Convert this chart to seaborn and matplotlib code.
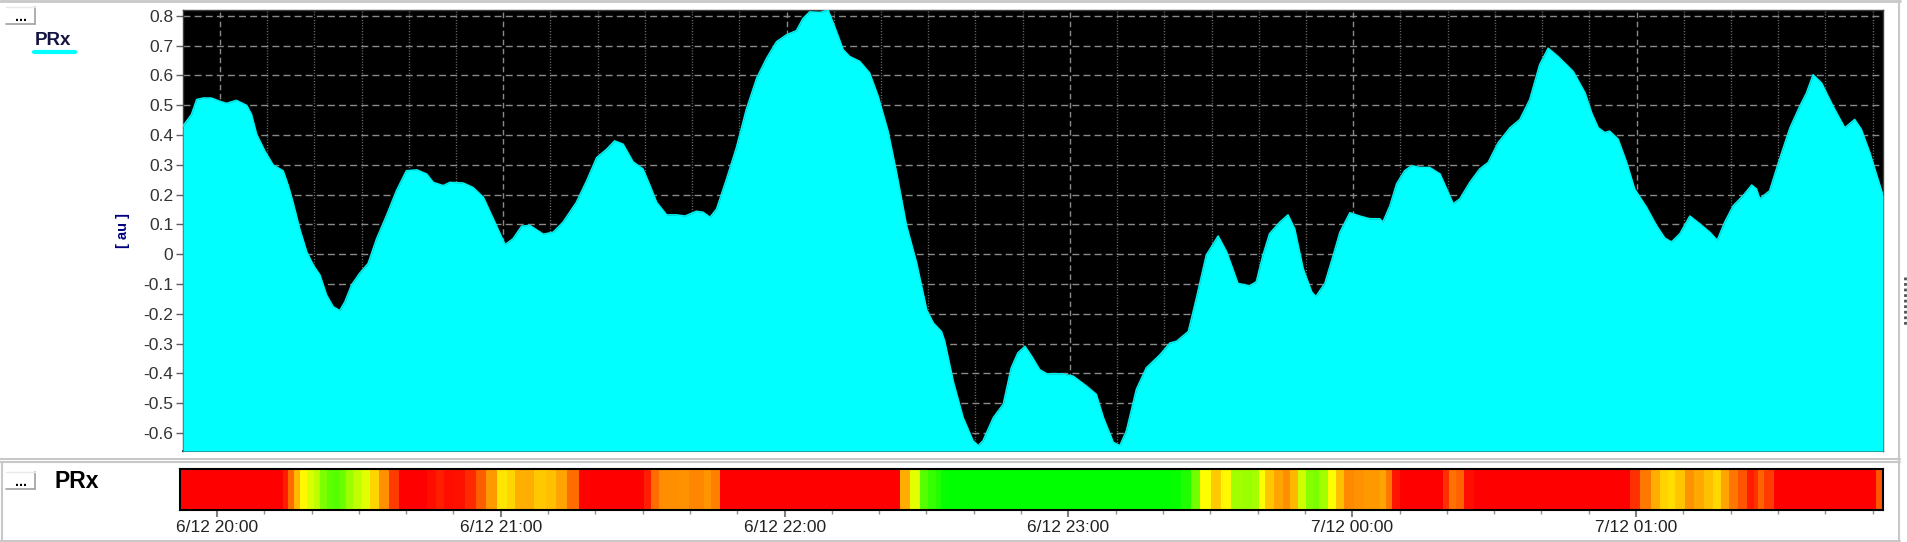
import numpy as np
import pandas as pd
import matplotlib
matplotlib.use("Agg")
import matplotlib.pyplot as plt
import seaborn as sns
from matplotlib.colors import LinearSegmentedColormap
from matplotlib.patches import Rectangle
from matplotlib.lines import Line2D

# ---- data: minutes after 6/12 20:00, PRx value ----
minutes = [-7.8, -6.0, -4.9, -3.5, -1.8, 0.0, 1.4, 3.5, 5.7, 6.7, 7.8, 9.5, 11.3, 13.4, 14.5,
           15.5, 16.9, 18.4, 19.8, 21.2, 22.6, 24.0, 25.4, 26.5, 27.9, 29.6, 31.4, 33.2, 35.3,
           37.4, 39.5, 41.7, 43.8, 45.2, 47.3, 48.7, 51.5, 53.6, 55.8, 57.9, 60.4, 62.1, 63.9,
           65.6, 68.5, 70.6, 72.7, 75.5, 77.7, 79.8, 81.9, 83.6, 85.4, 87.5, 89.6,
           91.1, 92.5, 94.6, 96.7, 98.5, 100.9, 102.3, 103.8, 105.2, 107.3, 109.4, 111.5,
           113.7, 115.8, 117.9, 120.0, 122.1, 123.5, 124.9, 127.1, 128.8, 130.2, 132.0,
           133.4, 135.5, 137.6, 139.4, 141.5, 143.3, 145.4, 147.5, 149.7, 151.1, 152.8,
           153.5, 155.3, 157.4, 159.5, 160.6, 161.6, 163.8, 165.9, 167.6, 169.0, 170.5,
           171.9, 173.6, 175.1, 178.2, 180.7, 183.5, 185.6, 187.1, 189.2, 190.6, 192.0,
           194.1, 196.2, 199.1, 201.2, 202.6, 205.1, 206.8, 208.9, 211.4, 213.2, 215.6,
           218.1, 219.5, 220.9, 222.3, 224.5, 226.2, 227.6, 229.4, 231.2, 232.1, 234.0,
           235.8, 237.2, 239.3, 241.4, 243.5, 245.6, 246.3, 247.8, 249.2, 250.9, 252.4,
           254.1, 256.2, 258.4, 259.8, 261.2, 262.6, 264.7, 266.8, 268.6, 270.7, 273.2,
           275.3, 277.4, 279.5, 281.3, 283.4, 286.6, 289.1, 290.5, 291.9, 293.3, 294.3,
           296.1, 297.9, 299.6, 302.1, 304.2, 306.0, 307.4, 309.2, 311.3, 313.4, 315.5,
           317.1, 318.7, 320.5, 322.6, 324.4, 325.4, 326.1, 328.2, 330.3, 332.5, 334.6,
           336.0, 337.4, 339.2, 341.6, 344.1, 346.2, 347.6, 349.4, 352.2]
prx = [0.43, 0.469, 0.519, 0.524, 0.524, 0.513, 0.506, 0.516, 0.499, 0.469, 0.402, 0.347,
       0.299, 0.28, 0.23, 0.174, 0.086, 0.008, -0.037, -0.07, -0.137, -0.176, -0.189, -0.159,
       -0.103, -0.064, -0.031, 0.052, 0.13, 0.213, 0.28, 0.283, 0.269, 0.241, 0.23, 0.241,
       0.239, 0.224, 0.191, 0.119, 0.032, 0.052, 0.094, 0.097, 0.067, 0.074, 0.108, 0.174,
       0.247, 0.324, 0.352, 0.38, 0.369, 0.31, 0.286,
       0.23, 0.174, 0.132, 0.132, 0.128, 0.144, 0.141, 0.124, 0.152, 0.252, 0.358, 0.486,
       0.591, 0.658, 0.713, 0.736, 0.75, 0.791, 0.813, 0.811, 0.819, 0.763, 0.686,
       0.663, 0.647, 0.608, 0.53, 0.413, 0.274, 0.097, -0.026, -0.187, -0.231, -0.259,
       -0.292, -0.426, -0.548, -0.626, -0.642, -0.626, -0.548, -0.503, -0.381, -0.331, -0.309,
       -0.342, -0.387, -0.401, -0.401, -0.409, -0.442, -0.47, -0.548, -0.631, -0.642, -0.592,
       -0.453, -0.381, -0.337, -0.298, -0.292, -0.259, -0.148, -0.003, 0.061, 0.008, -0.098,
       -0.106, -0.092, -0.003, 0.069, 0.108, 0.132, 0.086, -0.048, -0.126, -0.142, -0.098,
       -0.003, 0.074, 0.139, 0.128, 0.119, 0.119, 0.108, 0.163, 0.236, 0.28, 0.297,
       0.291, 0.291, 0.269, 0.219, 0.169, 0.186, 0.241, 0.286, 0.308, 0.374, 0.424,
       0.452, 0.519, 0.636, 0.691, 0.663, 0.613, 0.541, 0.474, 0.424, 0.408, 0.413,
       0.386, 0.308, 0.219, 0.158, 0.097, 0.054, 0.041, 0.069, 0.128, 0.102, 0.074,
       0.047, 0.108, 0.163, 0.197, 0.232, 0.219, 0.186, 0.213, 0.319, 0.424, 0.497,
       0.541, 0.602, 0.574, 0.497, 0.424, 0.452, 0.419, 0.341, 0.197]

hour_ticks = [0, 60, 120, 180, 240, 300]
hour_labels = ["6/12 20:00", "6/12 21:00", "6/12 22:00", "6/12 23:00", "7/12 00:00", "7/12 01:00"]
y_ticks = [0.8, 0.7, 0.6, 0.5, 0.4, 0.3, 0.2, 0.1, 0.0, -0.1, -0.2, -0.3, -0.4, -0.5, -0.6]
y_tick_labels = ["0.8", "0.7", "0.6", "0.5", "0.4", "0.3", "0.2", "0.1", "0",
                 "-0.1", "-0.2", "-0.3", "-0.4", "-0.5", "-0.6"]
series_name = "PRx"
unit_label = "[ au ]"

# ---- styling ----
sns.set_theme(style="white")
plt.rcParams['font.family'] = ['Liberation Sans', 'DejaVu Sans']

W, H = 1907, 542
fig = plt.figure(figsize=(W / 100, H / 100), dpi=100)
fig.patch.set_facecolor('white')


def px_axes(x0, y0, x1, y1):
    return fig.add_axes([x0 / W, 1 - y1 / H, (x1 - x0) / W, (y1 - y0) / H])


XMIN, XMAX = -7.8, 352.2
YMIN, YMAX = -0.66, 0.821
df = pd.DataFrame({"minute": minutes, "PRx": prx})

# ---- main area chart ----
ax = px_axes(183, 9.5, 1883, 451)
ax.set_facecolor('black')
ax.fill_between(df["minute"], YMIN, df["PRx"], color='#00ffff', lw=0, zorder=3)
sns.lineplot(data=df, x="minute", y="PRx", ax=ax, color='#00f0f0', lw=1.2, zorder=4)
ax.set_xlim(XMIN, XMAX)
ax.set_ylim(YMIN, YMAX)
ax.set_xticks(hour_ticks)
ax.set_xticks(np.arange(0, 351, 10), minor=True)
ax.set_yticks(y_ticks, y_tick_labels)
ax.tick_params(axis='x', which='both', length=0, labelbottom=False)
ax.tick_params(axis='y', which='major', left=True, length=5, width=1, color='#606060',
               labelsize=12.5, labelcolor='#333333', pad=2)
ax.grid(False)
ax.xaxis.grid(True, which='major', color='#8a8a8a', lw=1, linestyle=(0, (4, 2.5)), zorder=1)
ax.xaxis.grid(True, which='minor', color='#7a7a7a', lw=1, linestyle=(0, (0.7, 1.3)), zorder=1)
ax.yaxis.grid(True, which='major', color='#8a8a8a', lw=1, linestyle=(0, (5, 3)), zorder=1)
ax.set_axisbelow(True)
ax.set_xlabel("")
ax.set_ylabel("")
for s in ['left', 'top', 'right']:
    ax.spines[s].set_color('#404040')
    ax.spines[s].set_linewidth(1)
ax.spines['bottom'].set_color('#2f4f4f')
ax.spines['bottom'].set_linewidth(1.5)

fig.text(123 / W, 1 - 230 / H, unit_label, rotation=90, ha='center', va='center',
         color='#00007f', fontweight='bold', fontsize=10.5)

# ---- colour bar strip ----
VMIN, VMAX = -0.3, 0.25
def nv(v):
    return (v - VMIN) / (VMAX - VMIN)

cmap = LinearSegmentedColormap.from_list(
    "prx", [(nv(-0.3), (0, 1, 0)), (nv(-0.15), (0.45, 1, 0)), (nv(-0.05), (0.8, 1, 0)),
            (nv(0.0), (1, 1, 0)), (nv(0.05), (1, 0.84, 0)), (nv(0.12), (1, 0.6, 0)),
            (nv(0.19), (1, 0.38, 0)), (nv(0.25), (1, 0, 0))])
bx = px_axes(180, 469, 1883, 510)
m_arr = np.array(minutes)
edges = np.concatenate([[XMIN], (m_arr[:-1] + m_arr[1:]) / 2, [XMAX]])
bx.pcolormesh(edges, [0, 1], np.array(prx)[None, :], cmap=cmap, vmin=VMIN, vmax=VMAX,
              shading='flat')
bx.set_xlim(XMIN, XMAX)
bx.set_ylim(0, 1)
bx.set_yticks([])
bx.set_xticks(hour_ticks, hour_labels)
bx.set_xticks(np.arange(-0, 351, 10), minor=True)
bx.tick_params(axis='x', which='major', bottom=True, length=5, width=1.5, color='#808080',
               labelsize=12.5, labelcolor='#222222', pad=2)
bx.tick_params(axis='x', which='minor', bottom=True, length=3, width=1, color='#909090')
bx.grid(False)
for s in bx.spines.values():
    s.set_color('black')
    s.set_linewidth(1.5)

# ---- panel decorations ----
def fline(x0, y0, x1, y1, **kw):
    fig.add_artist(Line2D([x0 / W, x1 / W], [1 - y0 / H, 1 - y1 / H], transform=fig.transFigure, **kw))

fline(0, 1, 1900, 1, color='#c8c8c8', lw=2)
fline(0, 459, 1900, 459, color='#c8c8c8', lw=1.5)
fline(0, 462, 1900, 462, color='#c8c8c8', lw=1.5)
fline(0, 540.5, 1900, 540.5, color='#c8c8c8', lw=1.5)
fline(2, 462, 2, 541, color='#c8c8c8', lw=1.5)
fline(1899, 0, 1899, 541, color='#c8c8c8', lw=1.5)
fline(1905, 277, 1905, 327, color='#505050', lw=2, linestyle=(0, (1, 1)))

for (bx0, by0) in [(6, 7), (6, 472)]:
    fig.add_artist(Rectangle((bx0 / W, 1 - (by0 + 17) / H), 29 / W, 17 / H, transform=fig.transFigure,
                             facecolor='white', edgecolor='none'))
    fline(bx0, by0 + 17, bx0 + 29, by0 + 17, color='#a0a0a0', lw=1.2)
    fline(bx0 + 29, by0, bx0 + 29, by0 + 17, color='#a0a0a0', lw=1.2)
    fline(bx0, by0, bx0 + 29, by0, color='#e8e8e8', lw=1)
    fig.text((bx0 + 14.5) / W, 1 - (by0 + 10) / H, "...", ha='center', va='center',
             fontsize=10, fontweight='bold', color='black')

fig.text(35 / W, 1 - 45 / H, series_name, ha='left', va='baseline', fontsize=13.5,
         fontweight='bold', color='#141440')
fline(34, 52, 75, 52, color='#00ffff', lw=3)
fig.text(55 / W, 1 - 488 / H, series_name, ha='left', va='baseline', fontsize=16.5,
         fontweight='bold', color='black')

fig.savefig("out.png", dpi=100, facecolor='white')
